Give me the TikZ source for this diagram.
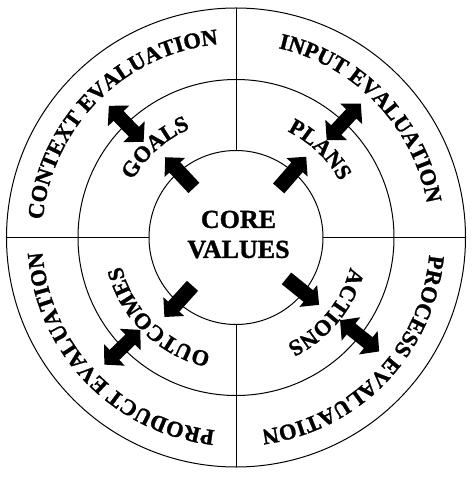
\documentclass[tikz,border=0pt]{standalone}
\usepackage{fontspec}
\setmainfont{Liberation Serif}
\newfontfamily\heavyserif[FakeBold=1.2]{Liberation Serif Bold}
\usetikzlibrary{decorations.text}
\newcommand\ringfont{\heavyserif\fontsize{22.5}{22.5}\selectfont}
\tikzset{
  ring/.style={circle, draw=black, line width=1pt, inner sep=0pt, outer sep=0pt, fill=none},
  divider/.style={draw=black, line width=1pt},
  sarr/.pic={\fill[black] (-21pt,-7.5pt) -- (7pt,-7.5pt) -- (7pt,-14pt) -- (21pt,0pt) -- (7pt,14pt) -- (7pt,7.5pt) -- (-21pt,7.5pt) -- cycle;},
  darr/.pic={\fill[black] (-25pt,0pt) -- (-11pt,15pt) -- (-11pt,7pt) -- (11pt,7pt) -- (11pt,15pt) -- (25pt,0pt) -- (11pt,-15pt) -- (11pt,-7pt) -- (-11pt,-7pt) -- (-11pt,-15pt) -- cycle;},
  ringtext/.style={decorate, decoration={text along path, text align=center, text={|\ringfont|#1}}}
}
\begin{document}
\begin{tikzpicture}
\useasboundingbox (-236pt,-240.5pt) rectangle (238pt,237.5pt);
% circles
\node[ring, minimum size=459pt] (outer) at (0pt,0pt) {};
\node[ring, minimum size=316pt] (middle) at (0pt,0pt) {};
\node[ring, minimum size=174pt] (inner) at (0pt,0pt) {};
% dividers
\draw[divider] (inner.north) -- (outer.north);
\draw[divider] (inner.south) -- (outer.south);
\draw[divider] (inner.west) -- (outer.west);
\draw[divider] (inner.east) -- (outer.east);
% centre text
\node[align=center, font=\heavyserif\fontsize{26}{30}\selectfont, inner sep=0pt] (core) at (2.5pt,3pt) {CORE\\VALUES};
% inner ring texts (baseline radius 118)
\path[ringtext=GOALS] (177:118pt) arc[start angle=177, end angle=87, radius=118pt];
\path[ringtext=PLANS] (91.3:118pt) arc[start angle=91.3, end angle=1.3, radius=118pt];
\path[ringtext=ACTIONS] (5.5:118pt) arc[start angle=5.5, end angle=-84.5, radius=118pt];
\path[ringtext=OUTCOMES] (270.9:118pt) arc[start angle=270.9, end angle=180.9, radius=118pt];
% outer ring texts (baseline radius 194)
\path[ringtext=CONTEXT EVALUATION] (190:194pt) arc[start angle=190, end angle=80, radius=194pt];
\path[ringtext=INPUT EVALUATION] (98.7:194pt) arc[start angle=98.7, end angle=-11.3, radius=194pt];
\path[ringtext=PROCESS EVALUATION] (11.2:194pt) arc[start angle=11.2, end angle=-98.8, radius=194pt];
\path[ringtext=PRODUCT EVALUATION] (279:194pt) arc[start angle=279, end angle=169, radius=194pt];
% single arrows (core values outwards)
\pic[rotate=133] (sa1) at (131:86pt) {sarr};
\pic[rotate=49] (sa2) at (49:86pt) {sarr};
\pic[rotate=-39] (sa3) at (-39:86pt) {sarr};
\pic[rotate=228] (sa4) at (228:86pt) {sarr};
% double arrows on the middle circle
\pic[rotate=134] (da1) at (134:158pt) {darr};
\pic[rotate=47] (da2) at (47:158pt) {darr};
\pic[rotate=-38.5] (da3) at (-38.5:158pt) {darr};
\pic[rotate=224] (da4) at (224:158pt) {darr};
\end{tikzpicture}
\end{document}
